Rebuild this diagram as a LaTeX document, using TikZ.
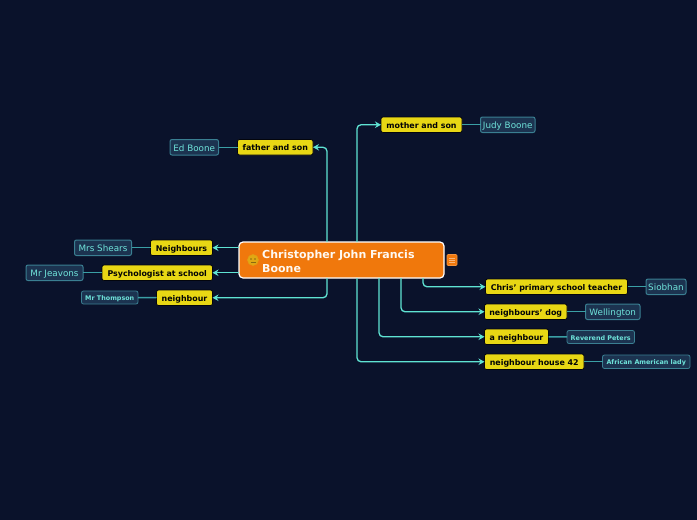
\documentclass[tikz,border=0pt]{standalone}
\usepackage{fontspec}
\setmainfont{DejaVu Sans}
\usetikzlibrary{arrows.meta}
\definecolor{bgc}{HTML}{0A122B}
\definecolor{linkc}{HTML}{5FE3D3}
\definecolor{dimc}{HTML}{3A9FA5}
\definecolor{orangec}{HTML}{F0780C}
\definecolor{yellowc}{HTML}{E8D714}
\definecolor{bluec}{HTML}{1C3350}
\definecolor{blueb}{HTML}{3A7F92}
\definecolor{bluet}{HTML}{6FE3DA}
\definecolor{smilec}{HTML}{E0A814}
\definecolor{facec}{HTML}{8A6A10}
\tikzset{
  x=1pt,y=-1pt,
  box/.style={anchor=center,inner sep=0pt,outer sep=0pt,rounded corners=2pt,align=left},
  topic/.style={box,fill=yellowc,draw=black!70!bgc,line width=0.8pt,text=black!85!bgc,text height=7.4pt,text depth=0pt,font=\bfseries\fontsize{7.9}{10}\selectfont},
  leaf/.style={box,fill=bluec,draw=blueb,line width=1pt,text=bluet,text height=7.8pt,text depth=0pt,font=\fontsize{8.8}{11}\selectfont},
  smallleaf/.style={leaf,line width=0.8pt,text height=6pt,text depth=0pt,font=\bfseries\fontsize{6.4}{8}\selectfont},
  conn/.style={draw=linkc,line width=1.3pt,rounded corners=4pt,-{Stealth[length=6pt,width=6.5pt,inset=2pt]}},
  tie/.style={draw=dimc,line width=1.4pt},
}
\newcommand{\bx}[6]{\node[#1,minimum width=#4-#3,minimum height=#6-#5] (#2) at ({(#3+#4)/2},{(#5+#6)/2})}
\begin{document}
\begin{tikzpicture}
\useasboundingbox[fill=bgc] (0,0) rectangle (697,520);
\coordinate (va) at (327,0);
\coordinate (vb) at (357,0);
\coordinate (vc) at (379,0);
\coordinate (vd) at (401,0);
\coordinate (ve) at (423,0);

\bx{topic}{father}{237.5}{313}{139.5}{155} {father and son};
\bx{topic}{mother}{381}{462}{117}{132.5} {mother and son};
\bx{topic}{neigh}{150.5}{212.5}{240}{255.5} {Neighbours};
\bx{topic}{psych}{102}{212.5}{265}{280.5} {Psychologist at school};
\bx{topic}{nbr}{156.5}{212.5}{290}{305.5} {neighbour};
\bx{topic}{chris}{485.5}{627.5}{279}{294.5} {Chris' primary school teacher};
\bx{topic}{dog}{484.5}{567}{304}{319.5} {neighbours' dog};
\bx{topic}{anb}{484.5}{548.5}{329}{344.5} {a neighbour};
\bx{topic}{house}{484.5}{584}{354}{369.5} {neighbour house 42};

\bx{leaf}{ed}{170}{218.5}{139.5}{155} {Ed Boone};
\bx{leaf}{judy}{480.5}{535}{117}{132.5} {Judy Boone};
\bx{leaf}{shears}{74.5}{131.5}{240}{255.5} {Mrs Shears};
\bx{leaf}{jeavons}{26}{83}{265}{280.5} {Mr Jeavons};
\bx{smallleaf}{thompson}{81.5}{138}{291}{304} {Mr Thompson};
\bx{leaf}{siobhan}{646}{686}{279}{294.5} {Siobhan};
\bx{leaf}{well}{585.5}{640}{304}{319.5} {Wellington};
\bx{smallleaf}{peters}{567}{634.5}{330.5}{343.5} {Reverend Peters};
\bx{smallleaf}{lady}{602.5}{690}{355}{368.5} {African American lady};

\draw[tie] (father) -- (ed);
\draw[tie] (mother) -- (judy);
\draw[tie] (neigh) -- (shears);
\draw[tie] (psych) -- (jeavons);
\draw[tie] (nbr) -- (thompson);
\draw[tie] (chris) -- (siobhan);
\draw[tie] (dog) -- (well);
\draw[tie] (anb) -- (peters);
\draw[tie] (house) -- (lady);

\node[box,fill=orangec,draw=white,line width=1.2pt,rounded corners=4pt,minimum width=205,minimum height=36] (ctr) at (341.5,260) {};

\draw[conn] (ctr.north -| va) |- (father.east);
\draw[conn] (ctr.north -| vb) |- (mother.west);
\draw[conn] (ctr.west |- neigh.east) -- (neigh.east);
\draw[conn] (ctr.west |- psych.east) -- (psych.east);
\draw[conn] (ctr.south -| va) |- (nbr.east);
\draw[conn] (ctr.south -| ve) |- (chris.west);
\draw[conn] (ctr.south -| vd) |- (dog.west);
\draw[conn] (ctr.south -| vc) |- (anb.west);
\draw[conn] (ctr.south -| vb) |- (house.west);

\node[anchor=west,inner sep=0pt,text=white!95!orange,align=left,font=\bfseries\fontsize{11}{14}\selectfont] (ctrtext) at (262,261) {Christopher John Francis\\Boone};

\node[circle,fill=smilec,draw=smilec!80!orangec,line width=0.6pt,minimum size=11,inner sep=0pt] (smile) at (253,260) {};
\fill[facec] (251,259) circle (0.8) (255,259) circle (0.8);
\draw[facec,line width=0.6pt] (250.5,262.5) -- (255.5,262.5);

\node[box,fill=orangec,draw=orangec!80!white,line width=0.6pt,rounded corners=1pt,minimum width=10,minimum height=11] (note) at (452,260) {};
\draw[white!45!orangec,line width=0.8pt] (449,258) -- (455,258) (449,260.3) -- (455,260.3) (449,262.6) -- (455,262.6);
\end{tikzpicture}
\end{document}
